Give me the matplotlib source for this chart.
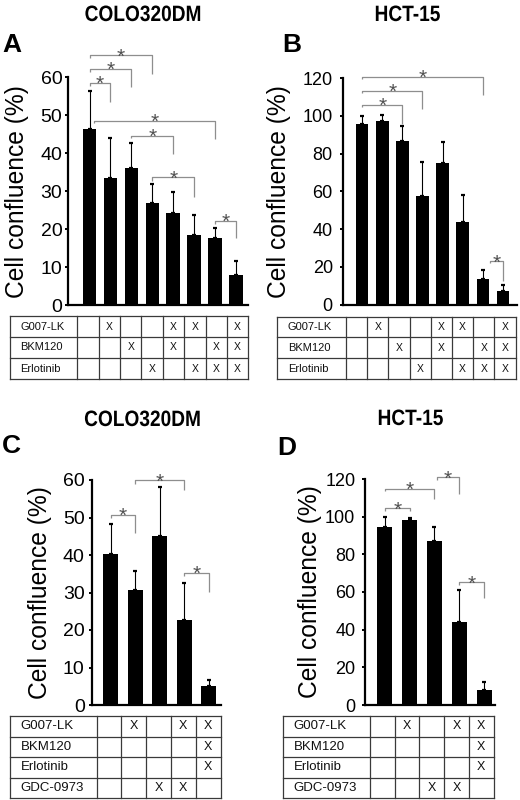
import matplotlib
matplotlib.use("Agg")
import matplotlib.pyplot as plt
from matplotlib.patheffects import AbstractPathEffect
from matplotlib.transforms import Affine2D
import numpy as np

W, H = 520, 800

# ---------------- data ----------------
titles = ["COLO320DM", "HCT-15", "COLO320DM", "HCT-15"]
letters = ["A", "B", "C", "D"]

A_vals = [46.3, 33.5, 36.0, 27.0, 24.2, 18.5, 17.6, 8.0]
A_err = [10.2, 10.6, 6.8, 5.0, 5.5, 5.3, 2.7, 3.7]
B_vals = [95.6, 97.3, 86.9, 57.8, 75.1, 43.6, 13.3, 7.4]
B_err = [4.4, 3.1, 7.8, 17.6, 10.9, 14.5, 5.2, 3.1]
C_vals = [40.3, 30.6, 45.0, 22.7, 5.0]
C_err = [8.0, 5.2, 13.1, 9.9, 1.6]
D_vals = [94.5, 98.2, 87.1, 44.2, 8.0]
D_err = [5.1, 1.1, 7.6, 16.7, 4.4]

drugs_top = ["G007-LK", "BKM120", "Erlotinib"]
treat_top = [[0, 1, 0, 0, 1, 1, 0, 1],
             [0, 0, 1, 0, 1, 0, 1, 1],
             [0, 0, 0, 1, 0, 1, 1, 1]]
drugs_bot = ["G007-LK", "BKM120", "Erlotinib", "GDC-0973"]
treat_bot = [[0, 1, 0, 1, 1],
             [0, 0, 0, 0, 1],
             [0, 0, 0, 0, 1],
             [0, 0, 1, 1, 0]]

# significance brackets: (bar i, bar j, top, left end, right end, left shift)
sig_A = [(0, 1, 58.6, 57.8, 53.6, 0), (0, 2, 62.2, 61.3, 57.4, 0),
         (0, 3, 65.8, 65.0, 60.9, 0), (0, 6, 48.6, 47.9, 43.7, 0.22),
         (2, 4, 44.6, 43.9, 39.7, 0), (3, 5, 33.6, 32.6, 28.5, 0),
         (6, 7, 22.2, 21.3, 17.6, 0)]
sig_B = [(0, 2, 105.8, 104.6, 96.0, 0), (0, 3, 113.4, 112.0, 103.5, 0),
         (0, 6, 120.7, 119.5, 111.1, 0), (6, 7, 23.0, 22.0, 12.5, 0.36)]
sig_C = [(0, 1, 50.8, 50.0, 45.8, 0), (1, 3, 59.9, 58.9, 57.3, 0),
         (3, 4, 35.2, 34.4, 30.2, 0)]
sig_D = [(0, 1, 104.5, 103.2, 103.2, 0), (0, 2, 114.9, 113.6, 109.6, 0),
         (2, 3, 120.9, 119.5, 111.9, 0.1), (3, 4, 65.2, 63.7, 56.7, 0)]

ylim_A, yticks_A = 60, [0, 10, 20, 30, 40, 50, 60]
ylim_B, yticks_B = 120, [0, 20, 40, 60, 80, 100, 120]
ylabel = "Cell confluence (%)"

# ---------------- layout ----------------
SANS = ["Liberation Sans", "DejaVu Sans"]
plt.rcParams["font.family"] = SANS

fig = plt.figure(figsize=(W / 100, H / 100), dpi=100)


class HSqueeze(AbstractPathEffect):
    """Narrow the glyphs horizontally about a given display x (condensed look)."""

    def __init__(self, sx, cx):
        super().__init__()
        self.sx, self.cx = sx, cx

    def draw_path(self, renderer, gc, tpath, affine, rgbFace=None):
        t = affine + Affine2D().translate(-self.cx, 0).scale(self.sx, 1).translate(self.cx, 0)
        renderer.draw_path(gc, tpath, t, rgbFace)


def box(left, top, right, bottom):
    return fig.add_axes([left / W, 1 - bottom / H, (right - left) / W, (bottom - top) / H])


panels = [
    dict(v=A_vals, e=A_err, s=sig_A, ym=ylim_A, t=yticks_A, b=(68, 77.3, 248, 305),
         xl=(-1.03, 7.57), w=0.65, ts=14, pad=1.5, lx=17),
    dict(v=B_vals, e=B_err, s=sig_B, ym=ylim_B, t=yticks_B, b=(342.5, 78.3, 517, 304.5),
         xl=(-0.97, 7.69), w=0.63, ts=13, pad=4.5, lx=279),
    dict(v=C_vals, e=C_err, s=sig_C, ym=ylim_A, t=yticks_A, b=(92.3, 480, 221, 705),
         xl=(-0.755, 4.5), w=0.61, ts=14, pad=3, lx=40),
    dict(v=D_vals, e=D_err, s=sig_D, ym=ylim_B, t=yticks_B, b=(365, 479, 495, 705),
         xl=(-0.8, 4.44), w=0.6, ts=13, pad=4.5, lx=310),
]

for p in panels:
    l, t, r, b = p["b"]
    ax = box(l, t, r, b)
    x = np.arange(len(p["v"]))
    ax.bar(x, p["v"], width=p["w"], color="black", edgecolor="black", linewidth=0, zorder=2)
    ax.errorbar(x, p["v"], yerr=[np.zeros(len(p["e"])), p["e"]], fmt="none",
                ecolor="black", elinewidth=0.8, capsize=1.6, capthick=1.6, zorder=1)
    ax.set_xlim(*p["xl"])
    ax.set_ylim(0, p["ym"])
    ax.set_yticks(p["t"])
    ax.set_xticks([])
    for sp in ("top", "right"):
        ax.spines[sp].set_visible(False)
    for sp in ("left", "bottom"):
        ax.spines[sp].set_linewidth(1.6)
        ax.spines[sp].set_color("black")
    ax.spines["left"].set_capstyle("projecting")
    ax.tick_params(axis="y", direction="out", length=2.5, width=1.4,
                   labelsize=p["ts"], pad=p["pad"], colors="black")
    ax.set_ylabel(ylabel, fontsize=17.7, va="center")
    ax.yaxis.set_label_coords((p["lx"] - l) / (r - l), 0.5)
    for (i, j, top, lb, rb, dx) in p["s"]:
        xi = i + dx
        ax.plot([xi, xi, j, j], [lb, top, top, rb], color="#8e8e8e", lw=0.9,
                clip_on=False, zorder=3, solid_capstyle="butt")
        ax.annotate("*", xy=((xi + j) / 2, top), xytext=(0, -5.2), textcoords="offset points",
                    ha="center", va="baseline", fontsize=15, color="#505050",
                    annotation_clip=False)

# ---------------- tables ----------------
tables = [
    dict(rows=drugs_top, m=treat_top, b=(10, 316, 248.3, 379), lab=77.3, fs=8, xs=7.5),
    dict(rows=drugs_top, m=treat_top, b=(277.3, 316.7, 515.5, 379), lab=346, fs=8, xs=7.5),
    dict(rows=drugs_bot, m=treat_bot, b=(10, 716, 220.5, 798.3), lab=96.7, fs=9.5, xs=9),
    dict(rows=drugs_bot, m=treat_bot, b=(283.3, 716, 493.5, 798.3), lab=370, fs=9.5, xs=9),
]
for tb in tables:
    l, t, r, b = tb["b"]
    ncol = len(tb["m"][0])
    nrow = len(tb["rows"])
    colw = (r - tb["lab"]) / ncol
    lw = (tb["lab"] - l) / colw
    ax = box(l, t, r, b)
    ax.set_xlim(-lw, ncol)
    ax.set_ylim(nrow, 0)
    ax.axis("off")
    lc = "#3a3a3a"
    for k in range(nrow + 1):
        ax.plot([-lw, ncol], [k, k], color=lc, lw=0.9, clip_on=False)
    ax.plot([-lw, -lw], [0, nrow], color=lc, lw=0.9, clip_on=False)
    for c in range(ncol + 1):
        ax.plot([c, c], [0, nrow], color=lc, lw=0.9, clip_on=False)
    pad = 10.5 / colw
    for k, name in enumerate(tb["rows"]):
        ax.text(-lw + pad, k + 0.5, name, ha="left", va="center", fontsize=tb["fs"], color="#111111")
        for c, flag in enumerate(tb["m"][k]):
            if flag:
                ax.text(c + 0.5, k + 0.5, "X", ha="center", va="center",
                        fontsize=tb["xs"], color="#111111")

# ---------------- titles & letters ----------------
title_pos = [(143, 15.5), (407.5, 15.5), (142.5, 420.5), (410.5, 419.5)]
letter_pos = [(2, 52), (282, 52), (2, 453), (277, 455)]
for txt, (x, y) in zip(titles, title_pos):
    fig.text(x / W, 1 - y / H, txt, ha="center", va="center", fontsize=16,
             fontweight="bold", path_effects=[HSqueeze(0.86, x)])
for txt, (x, y) in zip(letters, letter_pos):
    fig.text(x / W, 1 - y / H, txt, ha="left", va="baseline", fontsize=19,
             fontweight="bold")

fig.savefig("out.png", dpi=100)
